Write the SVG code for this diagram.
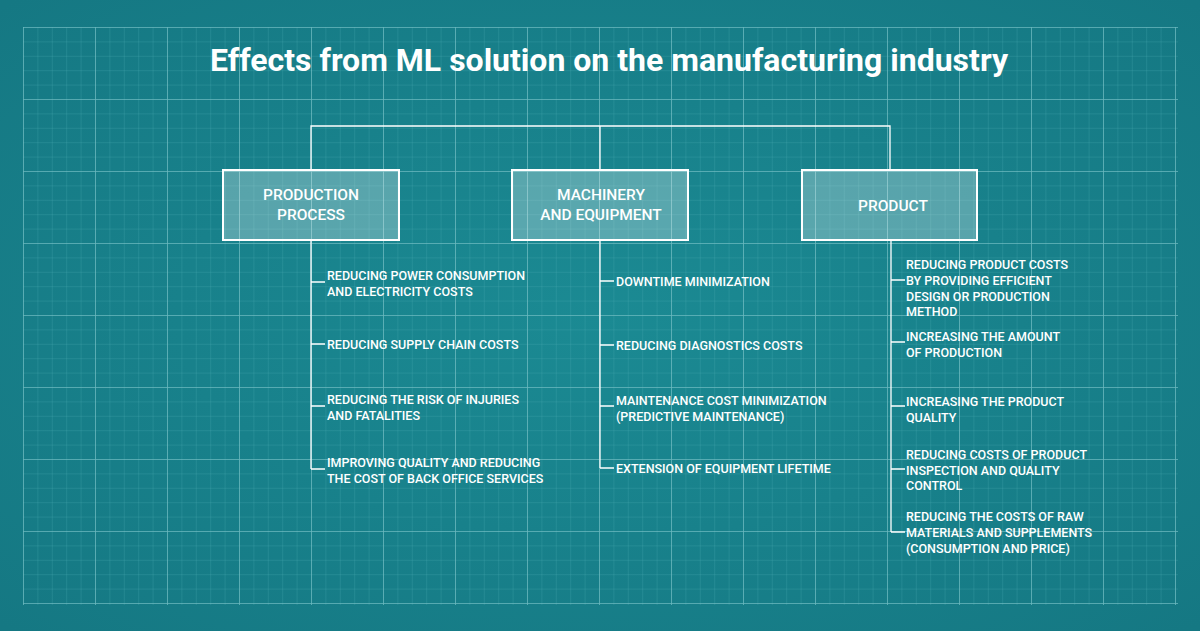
<svg xmlns="http://www.w3.org/2000/svg" width="1200" height="631" viewBox="0 0 1200 631">
<defs>
<pattern id="minor" width="14.4" height="14.4" patternUnits="userSpaceOnUse" x="23" y="27"><path d="M0 0H14.4M0 0V14.4" stroke="#4aa8b0" stroke-width="0.8" fill="none" opacity="0.65"/></pattern>
<pattern id="major" width="72" height="72" patternUnits="userSpaceOnUse" x="23" y="27"><path d="M0 0H72M0 0V72" stroke="#7cc3c8" stroke-width="1.6" fill="none" opacity="0.75"/></pattern>
<radialGradient id="bg" cx="0.5" cy="0.5" r="0.7"><stop offset="0" stop-color="#1b8a93"/><stop offset="1" stop-color="#157883"/></radialGradient>
</defs>
<style>
.t{font-family:Roboto,"Liberation Sans",sans-serif;fill:#fff}
.h{font-size:15.5px;font-weight:500;text-anchor:middle}
.s{font-size:12.5px;font-weight:500}
.c{stroke:#fff;stroke-width:1.3;fill:none}
.box{fill:#ffffff;fill-opacity:0.28;stroke:#fff;stroke-width:2}
</style>
<rect width="1200" height="631" fill="url(#bg)"/>
<rect x="23" y="27" width="1155" height="578" fill="url(#minor)"/>
<rect x="23" y="27" width="1155" height="578" fill="url(#major)"/>
<text class="t" x="609" y="71" font-size="32" font-weight="700" text-anchor="middle">Effects from ML solution on the manufacturing industry</text>
<g id="connectors" class="c">
<path d="M311 170V126H890V170M600 126V170"/>
<path d="M311 240V469M311 282H325M311 344H325M311 406H325M311 469H325"/>
<path d="M600 240V468M600 281H614M600 345H614M600 406H614M600 468H614"/>
<path d="M891 240V532M891 280H905M891 342H905M891 406H905M891 469H905M891 532H905"/>
</g>
<g id="n1"><rect class="box" x="223" y="170" width="176" height="70"/><text class="t h" x="311" y="200">PRODUCTION</text><text class="t h" x="311" y="220">PROCESS</text></g>
<g id="n2"><rect class="box" x="512" y="170" width="176" height="70"/><text class="t h" x="601" y="200">MACHINERY</text><text class="t h" x="601" y="220">AND EQUIPMENT</text></g>
<g id="n3"><rect class="box" x="802" y="170" width="175" height="70"/><text class="t h" x="893" y="211">PRODUCT</text></g>
<g id="pp-items" class="t s">
<text x="327" y="280">REDUCING POWER CONSUMPTION</text><text x="327" y="296">AND ELECTRICITY COSTS</text>
<text x="327" y="349">REDUCING SUPPLY CHAIN COSTS</text>
<text x="327" y="404">REDUCING THE RISK OF INJURIES</text><text x="327" y="420">AND FATALITIES</text>
<text x="327" y="467">IMPROVING QUALITY AND REDUCING</text><text x="327" y="483">THE COST OF BACK OFFICE SERVICES</text>
</g>
<g id="me-items" class="t s">
<text x="616" y="286">DOWNTIME MINIMIZATION</text>
<text x="616" y="350">REDUCING DIAGNOSTICS COSTS</text>
<text x="616" y="405">MAINTENANCE COST MINIMIZATION</text><text x="616" y="421">(PREDICTIVE MAINTENANCE)</text>
<text x="616" y="473">EXTENSION OF EQUIPMENT LIFETIME</text>
</g>
<g id="pr-items" class="t s">
<text x="906" y="269">REDUCING PRODUCT COSTS</text><text x="906" y="285">BY PROVIDING EFFICIENT</text><text x="906" y="301">DESIGN OR PRODUCTION</text><text x="906" y="316">METHOD</text>
<text x="906" y="341">INCREASING THE AMOUNT</text><text x="906" y="357">OF PRODUCTION</text>
<text x="906" y="406">INCREASING THE PRODUCT</text><text x="906" y="422">QUALITY</text>
<text x="906" y="459">REDUCING COSTS OF PRODUCT</text><text x="906" y="475">INSPECTION AND QUALITY</text><text x="906" y="490">CONTROL</text>
<text x="906" y="521">REDUCING THE COSTS OF RAW</text><text x="906" y="537">MATERIALS AND SUPPLEMENTS</text><text x="906" y="553">(CONSUMPTION AND PRICE)</text>
</g>
</svg>
